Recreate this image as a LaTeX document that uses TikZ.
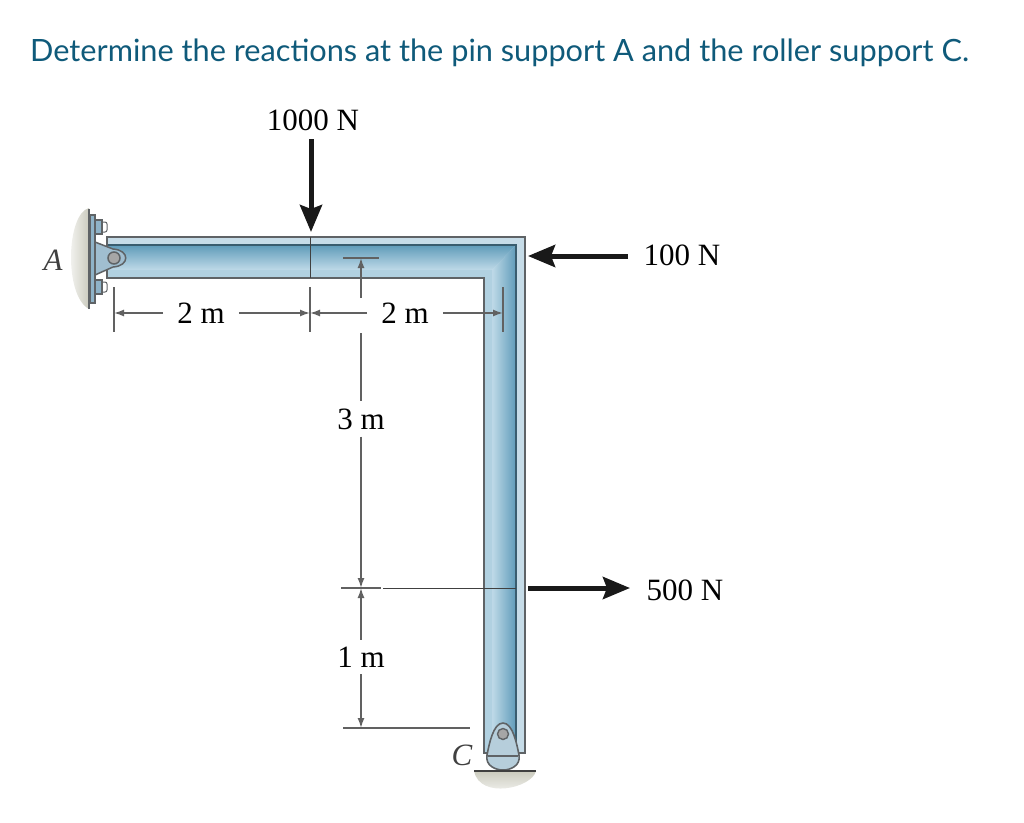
\documentclass[tikz,border=0pt]{standalone}
\usepackage{fontspec}
\setmainfont{Liberation Serif}
\newfontfamily\titlefont{Lato}
\usetikzlibrary{arrows.meta,positioning,calc}
\definecolor{titleblue}{HTML}{0F5A7A}
\definecolor{steeldark}{HTML}{5F9BB9}
\definecolor{steellight}{HTML}{BFDAE8}
\definecolor{flange}{HTML}{C6DCE8}
\definecolor{edgegray}{HTML}{5F6366}
\definecolor{platecol}{HTML}{8FB3C8}
\definecolor{wallcol}{HTML}{CBCBBE}
\tikzset{
  lbl/.style={font=\fontsize{31}{31}\selectfont, inner xsep=14pt, inner ysep=7pt},
  letter/.style={font=\fontsize{31}{31}\selectfont\itshape, text=black!75},
  dimline/.style={draw=black!62, line width=1.5pt},
  dimarrow/.style={dimline, -{Latex[length=10pt,width=7pt]}},
  thinline/.style={draw=black!75, line width=0.9pt},
  load/.style={draw=black!90, line width=5pt, -{Stealth[length=27pt,width=22pt,inset=4pt]}},
  steel/.style={draw=edgegray, line width=2pt},
  bolt/.style={draw=edgegray, fill=platecol, line width=1.2pt},
}
\begin{document}
\begin{tikzpicture}[x=1pt,y=-1pt]
    \useasboundingbox (0,0) rectangle (1024,822);
    \node[anchor=west, text=titleblue, inner sep=0pt, font=\fontsize{30.7}{31}\selectfont\titlefont] (title) at (30,53) {Determine the reactions at the pin support A and the roller support C.};

    % frame
    \fill[flange] (107,237) -- (525,237) -- (525,753) -- (484,753) -- (484,278) -- (107,278) -- cycle;
    \shade[top color=steeldark, bottom color=steellight] (107,245) -- (516,245) -- (492,270) -- (107,270) -- cycle;
    \shade[left color=steellight, right color=steeldark] (516,245) -- (516,753) -- (492,753) -- (492,270) -- cycle;
    \fill[steellight!85!steeldark] (107,270) -- (492,270) -- (492,753) -- (484,753) -- (484,278) -- (107,278) -- cycle;
    \draw[draw=steeldark!60!black, line width=1.5pt] (107,245) -- (516,245) -- (516,753);
    \draw[steel] (107,237) -- (525,237) -- (525,753) -- (484,753) -- (484,278) -- (107,278) -- cycle;

    % wall at A
    \shade[left color=white, middle color=wallcol, right color=wallcol] (89,208) .. controls (66,214) and (64,296) .. (89,309) -- cycle;
    \draw[bolt] (90,215) rectangle (95,303);
    \draw[edgegray, line width=1.8pt] (89,209) -- (89,309);
    \foreach \y in {227,287} {
      \draw[draw=edgegray, fill=white, line width=1pt, rounded corners=2pt] (100,\y-5) rectangle (107,\y+5);
      \draw[bolt] (95,\y-7) rectangle (102,\y+7);
    }
    \draw[draw=edgegray, fill=platecol!85!white, line width=1.5pt] (95,242) -- (113,249) .. controls (130,250) and (130,266) .. (113,267) -- (95,275) -- cycle;
    \draw[draw=edgegray, fill=black!35, line width=1.5pt] (114,258) circle (6);

    % support at C
    \shade[top color=wallcol, bottom color=white] (474,771) -- (536,771) .. controls (532,788) and (480,800) .. (474,771) -- cycle;
    \draw[draw=edgegray, fill=platecol!65!white, line width=1.6pt] (503,723) .. controls (513,723) and (517,745) .. (519,755) .. controls (521,766) and (510,770) .. (503,770) .. controls (496,770) and (485,766) .. (487,755) .. controls (489,745) and (493,723) .. (503,723) -- cycle;
    \draw[edgegray, line width=1.2pt] (488,756) -- (518,756);
    \draw[draw=edgegray, fill=black!35, line width=1.4pt] (503,734) circle (5.5);
    \draw[black!75, line width=2pt] (474,771) -- (536,771);

    \node[letter] (ptA) at (53,260) {A};
    \node[letter] (ptC) at (462,755) {C};

    % loads
    \node[lbl] (force1000) at (313,120) {1000 N};
    \node[lbl] (force100) at (682,255) {100 N};
    \node[lbl] (force500) at (685,590) {500 N};
    \coordinate (topload) at (311,139);
    \coordinate (tipload) at (311,232);
    \coordinate (tip100) at (528,256);
    \coordinate (tail100) at (628,256);
    \coordinate (tail500) at (528,588);
    \coordinate (tip500) at (630,588);
    \draw[load] (topload) -- (tipload);
    \draw[load] (tail100) -- (tip100);
    \draw[load] (tail500) -- (tip500);

    % dimensions
    \node[lbl] (dimab) at (201,313) {2 m};
    \node[lbl] (dimbc) at (405,313) {2 m};
    \node[lbl] (dimv3) at (361,419) {3 m};
    \node[lbl] (dimv1) at (361,657) {1 m};

    \coordinate (ta) at (114,313);
    \coordinate (tb) at (310,313);
    \coordinate (tc) at (503,313);
    \draw[dimline] (114,287) -- (114,332);
    \draw[thinline] (310,237) -- (310,278);
    \draw[dimline] (310,287) -- (310,332);
    \draw[dimline] (503,287) -- (503,332);
    \draw[dimarrow] (dimab) -- (ta);
    \draw[dimarrow] (dimab) -- (tb);
    \draw[dimarrow] (dimbc) -- (tb);
    \draw[dimarrow] (dimbc) -- (tc);

    \coordinate (h1) at (361,258);
    \coordinate (h2) at (361,588);
    \coordinate (h3) at (361,728);
    \coordinate (gap1) at (361,298);
    \coordinate (gap2) at (361,333);
    \draw[dimline] (343,258) -- (379,258);
    \draw[dimline] (341,588) -- (381,588);
    \draw[thinline] (383,588) -- (516,588);
    \draw[dimline] (343,728) -- (470,728);
    \draw[dimarrow] (gap1) -- (h1);
    \draw[dimline] (gap2) -- (dimv3);
    \draw[dimarrow] (dimv3) -- (h2);
    \draw[dimarrow] (dimv1) -- (h2);
    \draw[dimarrow] (dimv1) -- (h3);
\end{tikzpicture}
\end{document}
